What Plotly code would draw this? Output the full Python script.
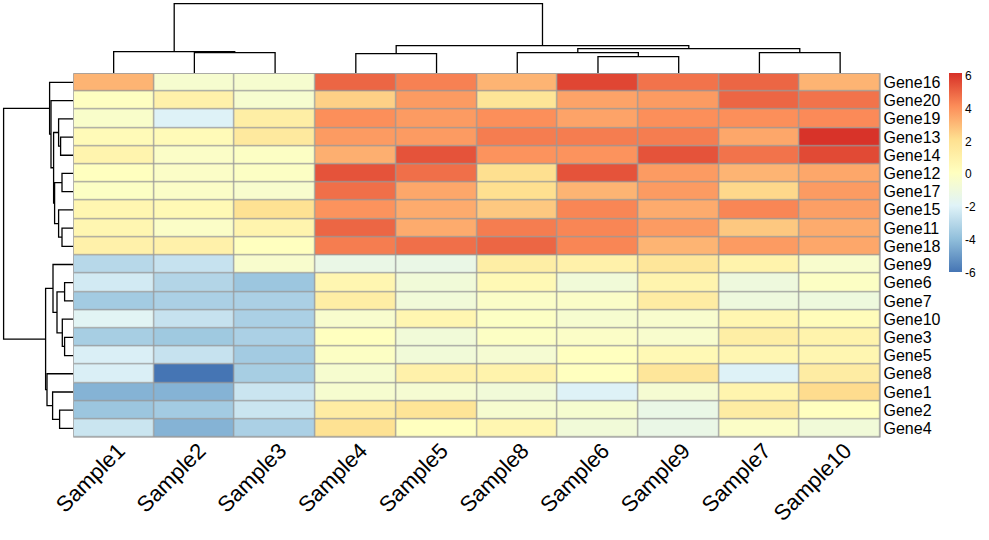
import plotly.graph_objects as go

# ---------------- data ----------------
samples = ["Sample1", "Sample2", "Sample3", "Sample4", "Sample5",
           "Sample8", "Sample6", "Sample9", "Sample7", "Sample10"]
genes = ["Gene16", "Gene20", "Gene19", "Gene13", "Gene14", "Gene12", "Gene17",
         "Gene15", "Gene11", "Gene18", "Gene9", "Gene6", "Gene7", "Gene10",
         "Gene3", "Gene5", "Gene8", "Gene1", "Gene2", "Gene4"]

# rows follow `genes`, columns follow `samples`
expr = [
    [3.2, -0.5, -0.5, 5.0, 4.4, 3.2, 5.7, 4.7, 5.0, 3.2],   # Gene16
    [0.0, 1.0, -0.5, 2.5, 3.8, 1.8, 3.6, 3.8, 5.0, 4.7],    # Gene20
    [-0.3, -2.0, 1.2, 4.1, 3.8, 4.1, 3.6, 4.1, 4.1, 4.2],   # Gene19
    [0.4, 0.4, 1.5, 3.8, 3.8, 4.5, 4.5, 4.5, 3.5, 6.1],     # Gene13
    [0.8, -0.2, -0.1, 3.3, 5.4, 4.0, 4.0, 5.4, 4.7, 5.6],   # Gene14
    [0.1, -0.2, -0.1, 5.4, 4.8, 2.1, 5.4, 3.8, 3.2, 3.5],   # Gene12
    [-0.1, -0.2, -0.4, 4.8, 3.5, 2.1, 3.2, 3.8, 2.3, 3.8],  # Gene17
    [0.7, 0.5, 2.0, 4.0, 3.4, 2.7, 4.3, 3.4, 4.3, 3.7],     # Gene15
    [0.7, -0.2, 0.8, 5.0, 3.4, 4.5, 4.3, 3.8, 2.7, 3.4],    # Gene11
    [1.0, 1.0, 0.1, 4.5, 4.8, 5.0, 4.3, 3.2, 3.8, 3.5],     # Gene18
    [-3.0, -2.6, -0.4, -1.3, -1.3, 1.2, 1.0, 1.7, 0.9, -0.4],   # Gene9
    [-2.3, -3.1, -3.7, 0.7, -0.8, 0.5, -0.8, 0.8, -1.0, -0.1],  # Gene6
    [-3.5, -3.3, -3.3, 1.2, -0.8, -0.2, -0.2, 1.3, -1.0, -1.0], # Gene7
    [-1.8, -2.6, -3.3, -0.4, 0.7, -0.1, -0.5, -0.4, 0.7, 0.3],  # Gene10
    [-3.4, -3.6, -3.3, 0.1, -0.8, -0.1, -0.2, -0.4, 1.2, 0.9],  # Gene3
    [-2.1, -2.6, -3.5, -0.1, -0.8, -0.6, 0.1, 0.5, 0.7, 0.7],   # Gene5
    [-2.1, -6.0, -3.4, -0.5, 1.0, 0.9, 0.1, 1.7, -2.0, 1.3],    # Gene8
    [-4.3, -4.3, -2.5, -0.5, -0.6, -0.8, -2.0, -0.6, 0.8, 2.2], # Gene1
    [-3.7, -3.5, -2.5, 1.3, 1.8, -0.5, -0.5, -1.3, 1.3, 0.1],   # Gene2
    [-2.5, -4.3, -3.3, 2.0, 0.1, 0.7, -0.8, -1.3, -0.2, -0.8],  # Gene4
]

# dendrograms: (merge height, left, right); leaves are names
col_tree = (69.7,
            (21.7, "Sample1", (20.7, "Sample2", "Sample3")),
            (27.7, (19.7, "Sample4", "Sample5"),
             (24.7, (20.7, "Sample8", (16.7, "Sample6", "Sample9")),
              (20.7, "Sample7", "Sample10"))))

row_tree = (69.7,
            (23.7, "Gene16",
             (22.3, "Gene20",
              (19.7, (14.7, "Gene19", (12.7, "Gene13", "Gene14")),
               (18.7, (11.3, "Gene12", "Gene17"),
                (14.7, "Gene15", (11.3, "Gene11", "Gene18")))))),
            (27.7, (20.3, "Gene9",
                    (16.3, (8.7, "Gene6", "Gene7"),
                     (11.0, "Gene10", (8.7, "Gene3", "Gene5")))),
             (26.3, "Gene8", (20.7, "Gene1", (13.7, "Gene2", "Gene4")))))

legend_ticks = [-6, -4, -2, 0, 2, 4, 6]
legend_labels = ["-6", "-4", "-2", "0", "2", "4", "6"]

colors = ["#4575B4", "#91BFDB", "#E0F3F8", "#FFFFBF", "#FEE090", "#FC8D59", "#D73027"]
zmin, zmax = -6.0, 6.17


def dendro_segments(tree, order):
    pos_list, h_list = [], []

    def walk(node):
        if isinstance(node, str):
            return order.index(node), 0.0
        h, a, b = node
        p1, h1 = walk(a)
        p2, h2 = walk(b)
        pos_list.extend([p1, p1, p2, p2, None])
        h_list.extend([h1, h, h, h2, None])
        return (p1 + p2) / 2.0, h

    walk(tree)
    return pos_list, h_list


# ---------------- layout geometry ----------------
W, H = 989, 540
hx0, hx1 = 73.3, 880.5     # heatmap px
hy0, hy1 = 73.3, 437.5
FONT = "Liberation Sans, Arial"

fig = go.Figure()

nC, nR = len(samples), len(genes)
fig.add_trace(go.Heatmap(
    z=expr, x=list(range(nC)), y=list(range(nR)),
    zmin=zmin, zmax=zmax,
    colorscale=[[i / (len(colors) - 1), c] for i, c in enumerate(colors)],
    xgap=1.2, ygap=1.2,
    colorbar=dict(
        x=949 / W, xanchor="left", y=1 - 73.3 / H, yanchor="top",
        len=(272.3 - 73.3) / H, lenmode="fraction", thickness=13,
        xpad=0, ypad=0, outlinewidth=0, ticks="",
        tickvals=legend_ticks, ticktext=legend_labels,
        tickfont=dict(family=FONT, size=12, color="black"),
    ),
    hoverinfo="skip",
    xaxis="x", yaxis="y",
))

# top dendrogram
cp, ch = dendro_segments(col_tree, samples)
fig.add_trace(go.Scatter(x=cp, y=ch, mode="lines",
                         line=dict(color="black", width=1.3),
                         xaxis="x2", yaxis="y2", hoverinfo="skip", showlegend=False))
# left dendrogram
rp, rh = dendro_segments(row_tree, genes)
fig.add_trace(go.Scatter(x=rh, y=rp, mode="lines",
                         line=dict(color="black", width=1.3),
                         xaxis="x3", yaxis="y3", hoverinfo="skip", showlegend=False))

hm_dom_x = [hx0 / W, hx1 / W]
hm_dom_y = [1 - hy1 / H, 1 - hy0 / H]

fig.update_layout(
    width=W, height=H,
    margin=dict(l=0, r=0, t=0, b=0, autoexpand=False),
    paper_bgcolor="white", plot_bgcolor="rgba(0,0,0,0)",
    showlegend=False,
    xaxis=dict(domain=hm_dom_x, range=[-0.5, nC - 0.5], automargin=False,
               tickvals=list(range(nC)), ticktext=samples, tickangle=-45,
               ticklabelshift=5, ticklabelstandoff=-5,
               tickfont=dict(family=FONT, size=22, color="black"),
               showgrid=False, zeroline=False, ticks="", showline=False),
    yaxis=dict(domain=hm_dom_y, range=[nR - 0.5, -0.5], side="right", automargin=False,
               tickvals=list(range(nR)), ticktext=genes, ticklabelstandoff=2,
               tickfont=dict(family=FONT, size=16, color="black"),
               showgrid=False, zeroline=False, ticks="", showline=False),
    xaxis2=dict(domain=hm_dom_x, range=[-0.5, nC - 0.5], visible=False,
                anchor="y2", automargin=False),
    yaxis2=dict(domain=[1 - hy0 / H, 1.0], range=[0, hy0], visible=False,
                anchor="x2", automargin=False),
    xaxis3=dict(domain=[0, hx0 / W], range=[hx0, 0], visible=False, anchor="y3",
                automargin=False),
    yaxis3=dict(domain=hm_dom_y, range=[nR - 0.5, -0.5], visible=False, anchor="x3",
                automargin=False),
)

# gray cell borders: background under heatmap + outer frame
fig.add_shape(type="rect", xref="x", yref="y", x0=-0.5, x1=nC - 0.5,
              y0=-0.5, y1=nR - 0.5, fillcolor="#9A9A9A", line=dict(width=0),
              layer="below")
fig.add_shape(type="rect", xref="x", yref="y", x0=-0.5, x1=nC - 0.5,
              y0=-0.5, y1=nR - 0.5, fillcolor="rgba(0,0,0,0)",
              line=dict(color="#9A9A9A", width=1.2), layer="above")

fig.write_html("out.html", config={"displayModeBar": False},
               post_script="document.body.style.margin='0';document.body.style.overflow='hidden';")
